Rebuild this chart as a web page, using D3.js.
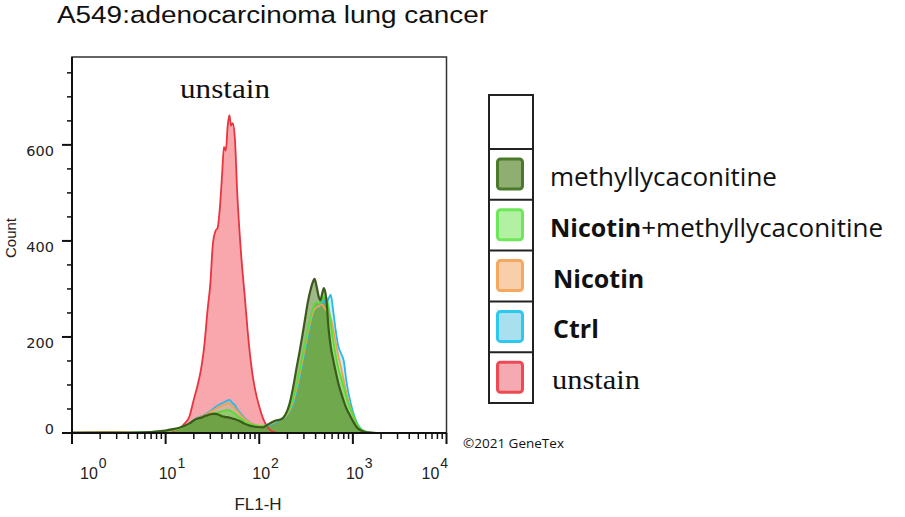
<!DOCTYPE html>
<html>
<head>
<meta charset="utf-8">
<script src="https://cdn.jsdelivr.net/npm/d3@7"></script>
<style>
  html, body { margin: 0; padding: 0; background: #fff; }
  svg { display: block; }
</style>
</head>
<body>
<svg id="chart" width="905" height="517"></svg>
<script>
// --- DATA ---
// FL1-H channel bins (log axis) and the counts read for each sample
const fl1Bins = [
  1, 2, 3, 5, 7, 8,
  10, 12, 14, 16, 18, 20, 22, 24, 26, 28,
  30, 32, 34, 36, 38, 40, 42, 44, 46, 48,
  50, 52, 55, 58, 62, 66, 70, 75, 80, 85,
  90, 100, 110, 120, 135, 150, 170, 190, 210, 230,
  250, 270, 290, 310, 330, 350, 370, 390, 410, 430,
  450, 470, 490, 520, 550, 580, 620, 660, 700, 750,
  800, 850, 900, 1000, 1100, 1200, 1350, 1500, 1800, 2500, 5000, 10000
];

const countUnstain = [
  0, 0, 0, 0, 0, 1,
  2, 4, 9, 20, 35, 70, 100, 135, 185, 255,
  310, 395, 420, 428, 470, 535, 596, 588, 640, 662,
  640, 645, 612, 506, 410, 340, 285, 215, 160, 120,
  92, 55, 30, 15, 4, 1, 0, 0, 0, 0,
  0, 0, 0, 0, 0, 0, 0, 0, 0, 0,
  0, 0, 0, 0, 0, 0, 0, 0, 0, 0,
  0, 0, 0, 0, 0, 0, 0, 0, 0, 0, 0, 0
];

const countCtrl = [
  0, 0, 0, 1, 2, 3,
  4, 6, 10, 15, 20, 27, 32, 35, 38, 42,
  46, 50, 54, 57, 60, 62, 64, 66, 68, 69,
  66, 62, 58, 50, 43, 37, 31, 26, 22, 19,
  17, 14, 14, 15, 18, 22, 27, 33, 44, 60,
  85, 115, 145, 175, 200, 225, 245, 258, 262, 262,
  265, 272, 275, 270, 280, 288, 250, 210, 180, 165,
  150, 110, 82, 45, 22, 10, 4, 1, 0, 0, 0, 0
];

const countNicotin = [
  0, 2, 2, 0, 1, 2,
  4, 6, 10, 15, 20, 26, 31, 34, 37, 40,
  44, 47, 50, 53, 55, 57, 59, 60, 62, 61,
  58, 55, 51, 46, 40, 34, 29, 25, 21, 19,
  17, 15, 15, 17, 20, 24, 28, 34, 46, 66,
  92, 122, 152, 182, 208, 230, 248, 258, 262, 264,
  266, 268, 262, 255, 250, 240, 215, 185, 160, 135,
  110, 85, 65, 38, 18, 8, 3, 1, 0, 0, 0, 0
];

const countNicMla = [
  0, 0, 0, 1, 2, 3,
  4, 6, 9, 14, 19, 25, 29, 32, 35, 37,
  39, 41, 42, 43, 44, 45, 46, 47, 48, 47,
  45, 43, 40, 36, 32, 28, 24, 21, 18, 17,
  16, 15, 15, 17, 21, 25, 29, 36, 50, 72,
  100, 130, 160, 190, 215, 238, 256, 268, 272, 270,
  272, 280, 285, 282, 262, 230, 190, 160, 135, 115,
  95, 75, 60, 38, 20, 9, 3, 1, 0, 0, 0, 0
];

const countMla = [
  1, 1, 1, 1, 2, 3,
  5, 8, 11, 15, 20, 26, 30, 32, 35, 37,
  39, 40, 40, 39, 37, 35, 34, 33, 33, 32,
  31, 30, 29, 27, 25, 22, 19, 17, 15, 14,
  13, 12, 12, 16, 22, 26, 28, 38, 60, 95,
  135, 170, 205, 240, 272, 295, 312, 321, 305, 285,
  276, 290, 302, 280, 218, 180, 150, 125, 103, 83,
  66, 52, 42, 25, 12, 6, 2, 1, 0, 0, 0, 0
];

const yTicksMajor = [0, 200, 400, 600];
const yTicksMinor = [50, 100, 150, 250, 300, 350, 450, 500, 550, 650, 700, 750];
const xDecades = [1, 10, 100, 1000, 10000];
const xExponents = ["0", "1", "2", "3", "4"];

// legend, top row to bottom row (first cell is empty)
const legendKeys = ["mla", "nicmla", "nicotin", "ctrl", "unstain"];

// --- STYLE ---
const series = [
  { key: "unstain", counts: countUnstain, stroke: "#e8343f", fill: "#f7989e", op: 0.85 },
  { key: "ctrl",    counts: countCtrl,    stroke: "#2bb8e8", fill: "#5ccaf0", op: 0.35 },
  { key: "nicotin", counts: countNicotin, stroke: "#f2a24e", fill: "#f5b06c", op: 0.35 },
  { key: "nicmla",  counts: countNicMla,  stroke: "#55dd33", fill: "#66dd44", op: 0.55 },
  { key: "mla",     counts: countMla,     stroke: "#3b5a1c", fill: "#4f7f25", op: 0.55 }
];
const swatch = {
  mla:     { stroke: "#4a7a2a", fill: "#8fae72" },
  nicmla:  { stroke: "#6ee85a", fill: "#b2f0a2" },
  nicotin: { stroke: "#f4a860", fill: "#f8cfa8" },
  ctrl:    { stroke: "#2ec8ee", fill: "#a8e0f0" },
  unstain: { stroke: "#ee4a55", fill: "#f4aab0" }
};

const svg = d3.select("#chart");
const SANS = "'Liberation Sans', Arial, sans-serif";
const SERIF = "'Liberation Serif', 'Times New Roman', serif";
const LEG = "'Open Sans', 'Noto Sans', sans-serif";

// --- SCALES ---
const plot = { left: 72, right: 446.5, top: 57, bottom: 433 };
const x = d3.scaleLog().domain([1, 10000]).range([plot.left, plot.right]);
const y = d3.scaleLinear().domain([0, 783]).range([plot.bottom, plot.top]);

// title
svg.append("text")
  .attr("x", 57).attr("y", 23)
  .attr("font-family", SANS).attr("font-size", 23)
  .attr("textLength", 431).attr("lengthAdjust", "spacingAndGlyphs")
  .attr("fill", "#111")
  .text("A549:adenocarcinoma lung cancer");

// --- HISTOGRAMS ---
svg.append("clipPath").attr("id", "plot-clip")
  .append("rect")
  .attr("x", plot.left).attr("y", plot.top)
  .attr("width", plot.right - plot.left).attr("height", plot.bottom - plot.top);

const gPlot = svg.append("g").attr("clip-path", "url(#plot-clip)");

const area = d3.area()
  .x((d, i) => x(fl1Bins[i]))
  .y0(y(0))
  .y1(d => y(d))
  .curve(d3.curveMonotoneX);
const line = d3.line()
  .x((d, i) => x(fl1Bins[i]))
  .y(d => y(d))
  .curve(d3.curveMonotoneX);

series.forEach(s => {
  gPlot.append("path")
    .attr("d", area(s.counts))
    .attr("fill", s.fill)
    .attr("fill-opacity", s.op);
});
series.forEach(s => {
  gPlot.append("path")
    .attr("d", line(s.counts))
    .attr("fill", "none")
    .attr("stroke", s.stroke)
    .attr("stroke-width", s.key === "mla" ? 2.2 : 1.8)
    .attr("stroke-linejoin", "round");
});

// frame
svg.append("rect")
  .attr("x", plot.left).attr("y", plot.top)
  .attr("width", plot.right - plot.left).attr("height", plot.bottom - plot.top)
  .attr("fill", "none").attr("stroke", "#333").attr("stroke-width", 1.5);

// --- Y AXIS ---
const gy = svg.append("g");
gy.append("line")
  .attr("x1", plot.left).attr("x2", plot.left)
  .attr("y1", plot.top).attr("y2", plot.bottom)
  .attr("stroke", "#111").attr("stroke-width", 2);
gy.selectAll(".ymaj").data(yTicksMajor).enter().append("line")
  .attr("x1", plot.left - 10).attr("x2", plot.left)
  .attr("y1", d => y(d)).attr("y2", d => y(d))
  .attr("stroke", "#111").attr("stroke-width", 2);
gy.selectAll(".ymin").data(yTicksMinor).enter().append("line")
  .attr("x1", plot.left - 5).attr("x2", plot.left)
  .attr("y1", d => y(d)).attr("y2", d => y(d))
  .attr("stroke", "#111").attr("stroke-width", 1.5);
gy.selectAll(".ylab").data(yTicksMajor).enter().append("text")
  .attr("x", 54)
  .attr("y", d => y(d) + (d === 0 ? 1 : 11))
  .attr("text-anchor", "end")
  .attr("font-family", "'DejaVu Sans', sans-serif").attr("font-size", 14.5)
  .attr("fill", "#222")
  .text(d => d);

svg.append("text")
  .attr("transform", "translate(16,238) rotate(-90)")
  .attr("text-anchor", "middle")
  .attr("font-family", SANS).attr("font-size", 15)
  .attr("fill", "#222")
  .text("Count");

// --- X AXIS ---
const gx = svg.append("g");
gx.append("line")
  .attr("x1", plot.left).attr("x2", plot.right)
  .attr("y1", plot.bottom).attr("y2", plot.bottom)
  .attr("stroke", "#111").attr("stroke-width", 2);

const xMinor = [];
xDecades.slice(0, -1).forEach(dec => {
  for (let k = 2; k <= 9; k++) xMinor.push(dec * k);
});
gx.selectAll(".xmaj").data(xDecades).enter().append("line")
  .attr("x1", d => x(d)).attr("x2", d => x(d))
  .attr("y1", plot.bottom).attr("y2", plot.bottom + 11)
  .attr("stroke", "#111").attr("stroke-width", 2);
gx.selectAll(".xmin").data(xMinor).enter().append("line")
  .attr("x1", d => x(d)).attr("x2", d => x(d))
  .attr("y1", plot.bottom).attr("y2", plot.bottom + 6)
  .attr("stroke", "#111").attr("stroke-width", 1.5);

const xLab = gx.selectAll(".xlab").data(xDecades).enter().append("text")
  .attr("x", (d, i) => i === 0 ? x(d) + 8 : (i === xDecades.length - 1 ? x(d) - 25 : x(d) - 7))
  .attr("y", 479)
  .attr("font-family", SANS).attr("font-size", 16)
  .attr("fill", "#222");
xLab.append("tspan").text("10");
xLab.append("tspan")
  .attr("dy", -11).attr("dx", 1)
  .attr("font-size", 14)
  .text((d, i) => xExponents[i]);

svg.append("text")
  .attr("x", 258).attr("y", 510)
  .attr("text-anchor", "middle")
  .attr("font-family", SANS).attr("font-size", 17)
  .attr("fill", "#222")
  .text("FL1-H");

// peak label
svg.append("text")
  .attr("x", 180).attr("y", 98)
  .attr("font-family", SERIF).attr("font-size", 27)
  .attr("textLength", 90).attr("lengthAdjust", "spacingAndGlyphs")
  .attr("fill", "#111")
  .text("unstain");

// --- LEGEND ---
const leg = { x: 489, w: 44, top: 95, first: 149, rowH: 50.8 };
const gLeg = svg.append("g");
gLeg.append("rect")
  .attr("x", leg.x).attr("y", leg.top)
  .attr("width", leg.w).attr("height", leg.first + leg.rowH * legendKeys.length - leg.top)
  .attr("fill", "#fff").attr("stroke", "#222").attr("stroke-width", 2);
legendKeys.forEach((k, i) => {
  const y0 = leg.first + i * leg.rowH;
  gLeg.append("line")
    .attr("x1", leg.x).attr("x2", leg.x + leg.w)
    .attr("y1", y0).attr("y2", y0)
    .attr("stroke", "#222").attr("stroke-width", 2);
  gLeg.append("rect")
    .attr("x", leg.x + 8.5).attr("y", y0 + 10)
    .attr("width", 25).attr("height", 30)
    .attr("rx", 3)
    .attr("fill", swatch[k].fill)
    .attr("stroke", swatch[k].stroke).attr("stroke-width", 3);
});

const legText = (i, xPos) => gLeg.append("text")
  .attr("x", xPos).attr("y", leg.first + i * leg.rowH + 37)
  .attr("fill", "#111");

legText(0, 550).attr("font-family", LEG).attr("font-size", 26).text("methyllycaconitine");

const t1 = legText(1, 550).attr("font-family", LEG).attr("font-size", 26);
t1.append("tspan").attr("font-weight", "bold").attr("font-size", 25).text("Nicotin");
t1.append("tspan").text("+methyllycaconitine");

legText(2, 553).attr("font-family", LEG).attr("font-size", 25).attr("font-weight", "bold").text("Nicotin");
legText(3, 553).attr("font-family", LEG).attr("font-size", 25).attr("font-weight", "bold").text("Ctrl");
legText(4, 552).attr("font-family", SERIF).attr("font-size", 27)
  .attr("textLength", 88).attr("lengthAdjust", "spacingAndGlyphs").text("unstain");

// copyright
svg.append("text")
  .attr("x", 463).attr("y", 448)
  .attr("font-family", LEG).attr("font-size", 13.5)
  .attr("fill", "#111")
  .text("\u00a92021 GeneTex");
</script>
</body>
</html>
